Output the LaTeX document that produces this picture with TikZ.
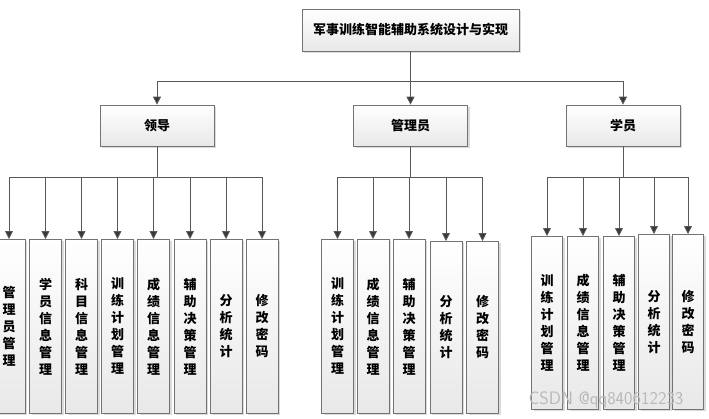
\documentclass[tikz,border=0pt]{standalone}
\usepackage{fontspec}
\newfontfamily\cjk{Noto Sans CJK SC}
\usetikzlibrary{positioning,shapes,shadows,arrows.meta}

\begin{document}
\begin{tikzpicture}[x=1pt, y=-1pt]
    \tikzset{
        mybox/.style = {rectangle, draw=gray!90!black, line width=0.7pt, top color=white, bottom color=gray!18,
                        drop shadow={shadow xshift=2pt, shadow yshift=-2pt, fill=black!35, opacity=0.4},
                        inner sep=0pt, font=\cjk\bfseries\fontsize{13}{17}\selectfont, align=center},
        titlebox/.style = {mybox, minimum width=217pt, minimum height=42pt},
        rolebox/.style = {mybox, minimum width=114pt, minimum height=41pt},
        leaf/.style = {mybox, anchor=north, minimum width=32pt, minimum height=174pt},
        line/.style = {line width=0.8pt, draw=gray!70!black},
        arrow/.style = {line, -{Triangle[width=8pt,length=8pt,fill=gray!45!black]}}
    }
    \useasboundingbox (0,0) rectangle (709,418);

    \node (title) [titlebox] at (410.5,30) {军事训练智能辅助系统设计与实现};
    \node (lead) [rolebox] at (157,125.5) {领导};
    \node (admin) [rolebox] at (410.5,125.5) {管理员};
    \node (stud) [rolebox] at (623,125.5) {学员};

    \coordinate (split0) at (410.5,81);
    \draw [line] (title) -- (split0);
    \draw [arrow] (split0) -| (lead.north);
    \draw [arrow] (split0) -- (admin.north);
    \draw [arrow] (split0) -| (stud.north);

    % leader
    \node (l1) [leaf] at (9,239) {管\\理\\员\\管\\理};
    \node (l2) [leaf] at (45.5,239) {学\\员\\信\\息\\管\\理};
    \node (l3) [leaf] at (81.5,239) {科\\目\\信\\息\\管\\理};
    \node (l4) [leaf] at (117.5,239) {训\\练\\计\\划\\管\\理};
    \node (l5) [leaf] at (153.5,239) {成\\绩\\信\\息\\管\\理};
    \node (l6) [leaf] at (190,239) {辅\\助\\决\\策\\管\\理};
    \node (l7) [leaf] at (226,239) {分\\析\\统\\计};
    \node (l8) [leaf] at (262,239) {修\\改\\密\\码};

    \coordinate (splitl) at (157,177);
    \draw [line] (lead) -- (splitl);
    \draw [arrow] (splitl) -| (l1.north);
    \draw [arrow] (splitl) -| (l2.north);
    \draw [arrow] (splitl) -| (l3.north);
    \draw [arrow] (splitl) -| (l4.north);
    \draw [arrow] (splitl) -| (l5.north);
    \draw [arrow] (splitl) -| (l6.north);
    \draw [arrow] (splitl) -| (l7.north);
    \draw [arrow] (splitl) -| (l8.north);

    % admin
    \node (a1) [leaf] at (337.5,239) {训\\练\\计\\划\\管\\理};
    \node (a2) [leaf] at (373,239) {成\\绩\\信\\息\\管\\理};
    \node (a3) [leaf] at (409,239) {辅\\助\\决\\策\\管\\理};
    \node (a4) [leaf, minimum height=172pt] at (446,241) {分\\析\\统\\计};
    \node (a5) [leaf, minimum height=172pt] at (482.5,241) {修\\改\\密\\码};

    \coordinate (splita) at (410.5,177);
    \draw [line] (admin) -- (splita);
    \draw [arrow] (splita) -| (a1.north);
    \draw [arrow] (splita) -| (a2.north);
    \draw [arrow] (splita) -| (a3.north);
    \draw [arrow] (splita) -| (a4.north);
    \draw [arrow] (splita) -| (a5.north);

    % student
    \node (s1) [leaf, minimum width=31pt, minimum height=173pt] at (547,236) {训\\练\\计\\划\\管\\理};
    \node (s2) [leaf, minimum width=31pt, minimum height=173pt] at (583,236) {成\\绩\\信\\息\\管\\理};
    \node (s3) [leaf, minimum width=31pt, minimum height=173pt] at (619,236) {辅\\助\\决\\策\\管\\理};
    \node (s4) [leaf, minimum width=31pt, minimum height=175pt] at (654,234) {分\\析\\统\\计};
    \node (s5) [leaf, minimum width=31pt, minimum height=175pt] at (688,234) {修\\改\\密\\码};

    \coordinate (splits) at (623,177);
    \draw [line] (stud) -- (splits);
    \draw [arrow] (splits) -| (s1.north);
    \draw [arrow] (splits) -| (s2.north);
    \draw [arrow] (splits) -| (s3.north);
    \draw [arrow] (splits) -| (s4.north);
    \draw [arrow] (splits) -| (s5.north);

    \node (mark) [font=\sffamily\fontsize{18}{18}\selectfont, text=gray!55] at (606,400) {CSDN @qq840612233};
\end{tikzpicture}
\end{document}
